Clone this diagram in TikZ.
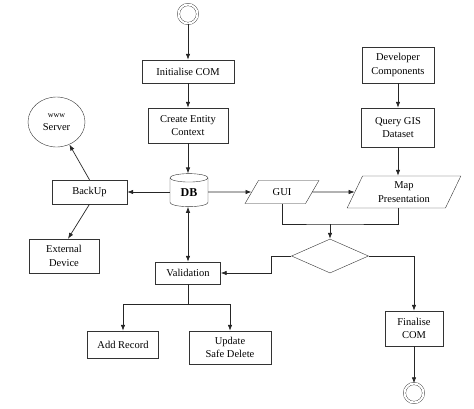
\documentclass[tikz,border=0pt]{standalone}
\usepackage{fontspec}
\setmainfont{Liberation Serif}
\usetikzlibrary{shapes.geometric, arrows.meta, positioning}

\begin{document}
\begin{tikzpicture}[x=1pt, y=-1pt,
    every node/.style={font=\fontsize{10.5}{13.5}\selectfont, text=black},
    proc/.style={draw=black!80, fill=white, align=center, inner sep=1pt},
    io/.style={draw=black!80, trapezium, trapezium stretches=true, align=center, inner sep=1pt},
    store/.style={draw=black!80, cylinder, shape border rotate=90, aspect=0.45, minimum width=38, minimum height=33, inner sep=1pt},
    web/.style={draw=black!80, ellipse, minimum width=57, minimum height=50, align=center, inner sep=0pt},
    term/.style={draw=black!80, circle, double, double distance=2pt, minimum size=19, inner sep=0pt},
    choice/.style={draw=black!80, diamond, minimum width=77, minimum height=34, inner sep=0pt},
    arr/.style={-{Latex[length=6pt, width=4.5pt]}, draw=black!85, line width=0.7pt},
    arrb/.style={{Latex[length=6pt, width=4.5pt]}-{Latex[length=6pt, width=4.5pt]}, draw=black!85, line width=0.7pt},
    ln/.style={draw=black!85, line width=0.7pt},
]
\useasboundingbox (0,0) rectangle (474,408);

% Main column
\node[term] (start) at (188,14) {};
\node[proc, minimum width=92, minimum height=23] (init) at (188,71.5) {Initialise COM};
\node[proc, minimum width=80, minimum height=35] (entity) at (188,125.5) {Create Entity\\Context};
\node[store] (db) at (189,193) {\fontsize{12}{14}\selectfont\textbf{DB}};
\node[proc, minimum width=65, minimum height=22] (valid) at (188,273) {Validation};
\node[proc, minimum width=71, minimum height=27] (addrec) at (123,344.5) {Add Record};
\node[proc, minimum width=82, minimum height=33] (update) at (230,347.5) {Update\\Safe Delete};

% Backup side
\node[proc, minimum width=75, minimum height=24] (backup) at (89.5,192) {BackUp};
\node[web] (server) at (56.5,122) {{\fontsize{8}{10}\selectfont www}\\Server};
\node[proc, minimum width=70, minimum height=34] (extdev) at (64,256) {External\\Device};

% GIS side
\node[proc, minimum width=72, minimum height=36] (devcomp) at (398,65) {Developer\\Components};
\node[proc, minimum width=73, minimum height=39] (query) at (398,127.5) {Query GIS\\Dataset};
\node[io, trapezium left angle=57, trapezium right angle=123, minimum width=74, minimum height=23] (gui) at (282,192) {GUI};
\node[io, trapezium left angle=66, trapezium right angle=114, minimum width=114, minimum height=32] (map) at (404,192) {Map\\Presentation};
\node[choice] (dec) at (330,256) {};
\node[proc, minimum width=58, minimum height=35] (final) at (414,328.5) {Finalise\\COM};
\node[term] (stop) at (414,393) {};

\coordinate (merge) at (330,224);
\coordinate (bend) at (271,273);
\coordinate (split) at (188,304);

% Arrows
\draw[arr] (start) -- (init);
\draw[arr] (init) -- (entity);
\draw[arr] (entity) -- (entity |- db.north);
\draw[arr] (db.west |- backup) -- (backup);
\draw[arr] (backup.north) -- (server);
\draw[arr] (backup.south) -- ([xshift=4pt]extdev.north);
\draw[arr] (db.east |- gui) -- (gui);
\draw[arr] (gui) -- (map);
\draw[arr] (devcomp) -- (query);
\draw[arr] (query) -- (query |- map.north);
\draw[ln] (gui.south) |- (merge) -| (query |- map.south);
\draw[arr] (merge) -- (dec.north);
\draw[arr] (dec.west) -| (bend) -- (valid.east);
\draw[arr] (dec.east) -| (final.north);
\draw[arr] (final) -- (stop);
\draw[arrb] (db.south -| valid.north) -- (valid.north);
\draw[ln] (valid) -- (split);
\draw[arr] (split) -| (addrec.north);
\draw[arr] (split) -| (update.north);

\end{tikzpicture}
\end{document}
